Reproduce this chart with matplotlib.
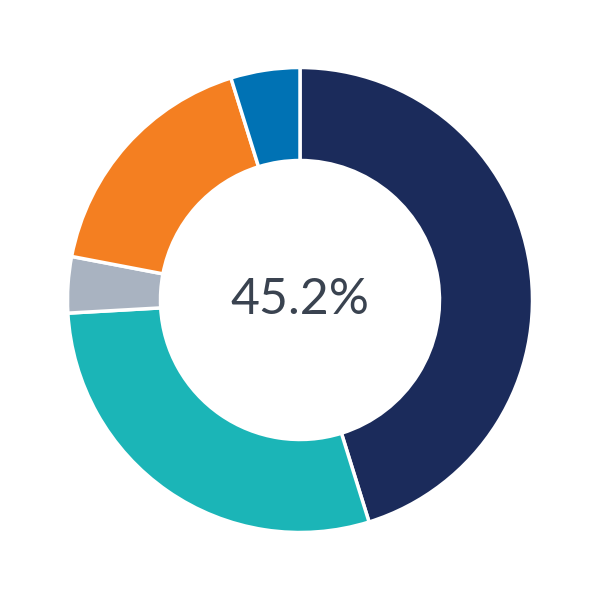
import matplotlib
matplotlib.use("Agg")
import matplotlib.pyplot as plt

labels = ["A", "B", "C", "D", "E"]
values = [45.2, 28.9, 3.9, 17.2, 4.8]
colors = ["#1b2b5b", "#1bb5b7", "#a9b3c1", "#f47f21", "#0072b4"]
center_text = "45.2%"

fig = plt.figure(figsize=(6, 6), dpi=100)
ax = fig.add_axes([0, 0, 1, 1])
ax.pie(values, colors=colors, startangle=90, counterclock=False, radius=0.775,
       wedgeprops=dict(width=0.31, edgecolor="white", linewidth=2.5))
ax.text(0, 0, center_text, ha="center", va="center", fontsize=36,
        color="#3a4350", family="Lato")
ax.set_xlim(-1, 1); ax.set_ylim(-1, 1)
ax.set_aspect("equal")
ax.axis("off")
fig.savefig("out.png", dpi=100, facecolor="white")
